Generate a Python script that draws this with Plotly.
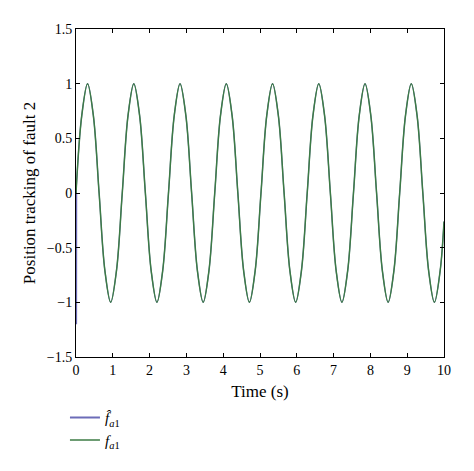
import plotly.graph_objects as go

# Sample times (s) and values (8 samples per cycle)
time = [0.000, 0.157, 0.314, 0.471, 0.628, 0.785, 0.942, 1.100,
        1.257, 1.414, 1.571, 1.728, 1.885, 2.042, 2.199, 2.356,
        2.513, 2.670, 2.827, 2.985, 3.142, 3.299, 3.456, 3.613,
        3.770, 3.927, 4.084, 4.241, 4.398, 4.555, 4.712, 4.869,
        5.027, 5.184, 5.341, 5.498, 5.655, 5.812, 5.969, 6.126,
        6.283, 6.440, 6.597, 6.754, 6.912, 7.069, 7.226, 7.383,
        7.540, 7.697, 7.854, 8.011, 8.168, 8.325, 8.482, 8.639,
        8.796, 8.954, 9.111, 9.268, 9.425, 9.582, 9.739, 9.896, 10.000]
f_a1 = [0.00, 0.71, 1.00, 0.71, 0.00, -0.71, -1.00, -0.71,
        0.00, 0.71, 1.00, 0.71, 0.00, -0.71, -1.00, -0.71,
        0.00, 0.71, 1.00, 0.71, 0.00, -0.71, -1.00, -0.71,
        0.00, 0.71, 1.00, 0.71, 0.00, -0.71, -1.00, -0.71,
        0.00, 0.71, 1.00, 0.71, 0.00, -0.71, -1.00, -0.71,
        0.00, 0.71, 1.00, 0.71, 0.00, -0.71, -1.00, -0.71,
        0.00, 0.71, 1.00, 0.71, 0.00, -0.71, -1.00, -0.71,
        0.00, 0.71, 1.00, 0.71, 0.00, -0.71, -1.00, -0.71, -0.26]

# Estimate: initial transient (drop to -1.2 at t≈0) then tracks the fault
trans_time = [0.000, 0.003, 0.006]
trans_vals = [0.05, -1.20, 0.00]

fig = go.Figure()
# estimate transient (legend entry for the estimate)
fig.add_trace(go.Scatter(x=trans_time, y=trans_vals, mode="lines",
                         name="<i>f̂</i><sub><i>a</i>1</sub>", legendgroup="est",
                         line=dict(color="#6c6cb8", width=2)))
# estimate tracking part (same curve as the fault, hidden under it)
fig.add_trace(go.Scatter(x=time, y=f_a1, mode="lines", showlegend=False, legendgroup="est",
                         line=dict(color="#6c6cb8", width=1.2, shape="spline", smoothing=1.0)))
fig.add_trace(go.Scatter(x=time, y=f_a1, mode="lines",
                         name="<i>f</i><sub><i>a</i>1</sub>",
                         line=dict(color="#3d7b45", width=1.5, shape="spline", smoothing=1.0)))

font = "Liberation Serif, DejaVu Serif, serif"
axis_common = dict(showline=True, linecolor="black", linewidth=1, mirror="ticks",
                   ticks="inside", ticklen=4, tickcolor="black", showgrid=False,
                   zeroline=False, automargin=False,
                   tickfont=dict(family=font, size=14, color="black"))
fig.update_layout(
    width=474, height=471,
    margin=dict(l=68, r=38, t=21, b=122),
    paper_bgcolor="white", plot_bgcolor="white",
    font=dict(family=font, size=14, color="black"),
    xaxis=dict(range=[0, 10], dtick=1, title=dict(text="Time (s)", standoff=8), **axis_common),
    yaxis=dict(range=[-1.5, 1.5], dtick=0.5, title=dict(text="Position tracking of fault 2", standoff=6),
               tickformat=".1~f", **axis_common),
    legend=dict(x=-0.03, y=-0.135, xanchor="left", yanchor="top",
                bgcolor="rgba(0,0,0,0)", font=dict(family=font, size=15),
                tracegroupgap=0, itemwidth=30),
    showlegend=True,
)
fig.write_html("out.html")
